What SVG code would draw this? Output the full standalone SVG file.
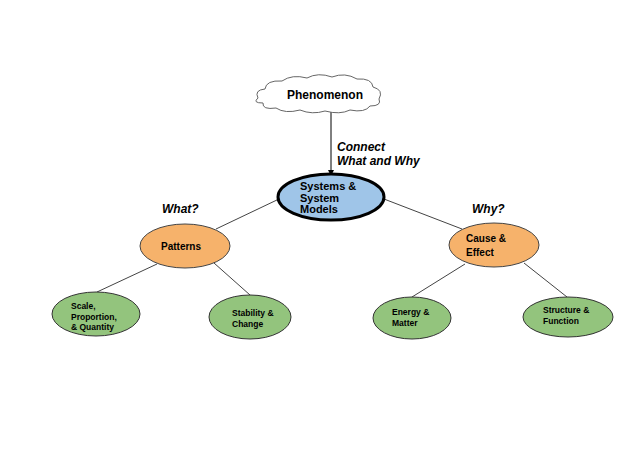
<svg xmlns="http://www.w3.org/2000/svg" width="625" height="468" viewBox="0 0 625 468">
<defs>
<marker id="arr" markerWidth="6" markerHeight="6" refX="5" refY="3" orient="auto" markerUnits="userSpaceOnUse">
<path d="M0,0 L6,3 L0,6 Z" fill="#000"/>
</marker>
<style>
text{font-family:"Liberation Sans",Arial,sans-serif;font-weight:bold;fill:#000}
.lbl{font-style:italic;font-size:12px}
.edge{stroke:#444;stroke-width:1;fill:none}
.green{fill:#93c47d;stroke:#333;stroke-width:1}
.orange{fill:#f6b26b;stroke:#444;stroke-width:1}
.sm{font-size:8.5px}
.md{font-size:10px}
.sys{font-size:11px}
</style>
</defs>
<rect width="625" height="468" fill="#fff"/>
<g id="connectors">
<line class="edge" x1="331" y1="112" x2="331" y2="175" marker-end="url(#arr)" style="stroke:#000"/>
<line class="edge" x1="279" y1="199" x2="216" y2="229"/>
<line class="edge" x1="384" y1="199" x2="462" y2="229"/>
<line class="edge" x1="157" y1="264" x2="97" y2="292"/>
<line class="edge" x1="214" y1="263" x2="250" y2="295"/>
<line class="edge" x1="465" y1="264" x2="412" y2="297"/>
<line class="edge" x1="524" y1="263" x2="567" y2="297"/>
</g>
<g id="phenomenon">
<path d="M258,98 Q254,90 265,89 Q266,80 282,81 Q292,74 307,78 Q318,72 332,77 Q345,72 357,79 Q372,78 373,87 Q384,90 379,99 Q382,106 370,106 Q365,113 350,110 Q340,115 325,111 Q312,115 300,110 Q285,114 276,108 Q262,110 263,103 Q252,103 258,98 Z" fill="#fff" stroke="#666" stroke-width="1"/>
<text x="325" y="99" font-size="12" text-anchor="middle">Phenomenon</text>
</g>
<g id="connect-label">
<text class="lbl" x="337" y="151">Connect</text>
<text class="lbl" x="337" y="165">What and Why</text>
</g>
<g id="systems">
<ellipse cx="331" cy="197" rx="53" ry="23" fill="#9fc5e8" stroke="#000" stroke-width="3"/>
<text class="sys" x="300" y="190">Systems &amp;</text>
<text class="sys" x="300" y="201.5">System</text>
<text class="sys" x="300" y="213">Models</text>
</g>
<g id="what-label"><text class="lbl" x="162" y="213">What?</text></g>
<g id="why-label"><text class="lbl" x="472" y="213">Why?</text></g>
<g id="patterns">
<ellipse class="orange" cx="185" cy="246" rx="45" ry="22"/>
<text class="md" x="161" y="250">Patterns</text>
</g>
<g id="cause">
<ellipse class="orange" cx="494" cy="245" rx="45" ry="22"/>
<text class="md" x="466" y="242">Cause &amp;</text>
<text class="md" x="466" y="256">Effect</text>
</g>
<g id="scale">
<ellipse class="green" cx="96" cy="314" rx="44" ry="22"/>
<text class="sm" x="71" y="309">Scale,</text>
<text class="sm" x="71" y="319.5">Proportion,</text>
<text class="sm" x="71" y="330">&amp; Quantity</text>
</g>
<g id="stability">
<ellipse class="green" cx="250" cy="317" rx="41" ry="22"/>
<text class="sm" x="232" y="316">Stability &amp;</text>
<text class="sm" x="232" y="326.5">Change</text>
</g>
<g id="energy">
<ellipse class="green" cx="412" cy="318" rx="39" ry="21"/>
<text class="sm" x="392" y="315">Energy &amp;</text>
<text class="sm" x="392" y="326">Matter</text>
</g>
<g id="structure">
<ellipse class="green" cx="568" cy="317" rx="45" ry="20"/>
<text class="sm" x="543" y="313">Structure &amp;</text>
<text class="sm" x="543" y="324">Function</text>
</g>
</svg>
